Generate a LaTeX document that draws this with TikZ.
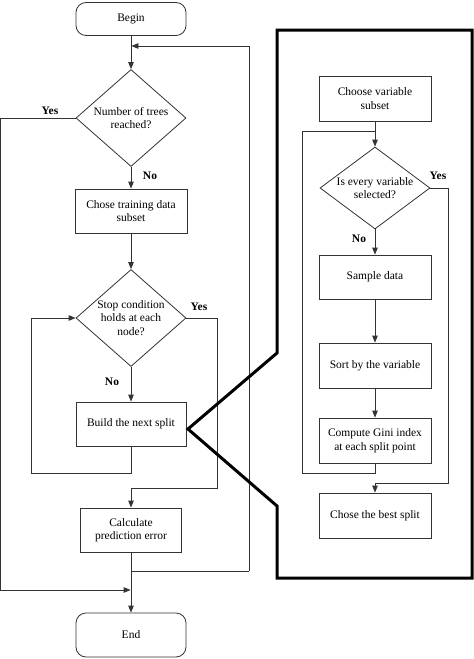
\documentclass[tikz,border=0pt]{standalone}
\usepackage{fontspec}
\setmainfont{Liberation Serif}
\usetikzlibrary{shapes.geometric,arrows.meta}
\begin{document}
\begin{tikzpicture}[x=1pt,y=-1pt,
  every node/.style={font=\fontsize{11.5}{13.5}\selectfont},
  ln/.style={line width=0.8pt,draw=black!80},
  arr/.style={ln,-{Triangle[length=7pt,width=5.5pt]}},
  box/.style={draw=black!80,line width=0.8pt,rectangle,minimum width=112pt,minimum height=44pt,align=center,inner sep=0pt},
  rbox/.style={box,rounded corners=10pt},
  dia/.style={draw=black!80,line width=0.8pt,diamond,inner sep=0pt,minimum width=110pt},
  txt/.style={align=center,inner sep=0pt},
  lab/.style={font=\fontsize{11.5}{13.5}\selectfont\bfseries,inner sep=0pt},
  big/.style={line width=3pt,draw=black,line join=miter}]
\useasboundingbox (0,0) rectangle (474,659);
% left flow
\node[rbox,minimum width=110pt,minimum height=33pt] (begin) at (131,19) {Begin};
\node[dia,minimum height=97pt] (d1) at (131,118) {};
\node[txt] (d1t) at (131,118) {Number of trees\\reached?};
\node[box] (chose) at (131,211) {Chose training data\\subset};
\node[dia,minimum height=97pt] (d2) at (131,318) {};
\node[txt] (d2t) at (131,318) {Stop condition\\holds at each\\node?};
\node[box,minimum width=110pt] (build) at (131,424) {Build the next split};
\node[box,minimum width=101pt] (calc) at (131,530) {Calculate\\prediction error};
\node[rbox,minimum width=110pt] (end) at (131,635) {End};
% labels
\node[lab] (y1) at (50,111) {Yes};
\node[lab] (n1) at (150,176) {No};
\node[lab] (y2) at (199,307) {Yes};
\node[lab] (n2) at (112,382) {No};
% coordinates
\coordinate (j1) at (131,46);
\coordinate (r1) at (249,46);
\coordinate (r2) at (249,571);
\coordinate (j3) at (131,571);
\coordinate (l1) at (0,118);
\coordinate (l2) at (0,590);
\coordinate (j4) at (131,590);
\coordinate (s1) at (217,318);
\coordinate (s2) at (217,488);
\coordinate (s3) at (131,488);
\coordinate (b1) at (131,473);
\coordinate (b2) at (31,473);
\coordinate (b3) at (31,318);
% connectors left
\draw[arr] (begin.south) -- (d1.north);
\draw[arr] (r2) -- (j3) (r2) -- (r1) -- ([xshift=0.4pt]j1);
\draw[arr] (d1.south) -- (chose.north);
\draw[arr] (chose.south) -- (d2.north);
\draw[arr] (d2.south) -- (build.north);
\draw[arr] (build.south) -- (b1) -- (b2) -- (b3) -- (d2.west);
\draw[arr] (d2.east) -- (s1) -- (s2) -- (s3) -- (calc.north);
\draw[arr] (calc.south) -- (end.north);
\draw[arr] (d1.west) -- (l1) -- (l2) -- ([xshift=-0.4pt]j4);
% right frame
\coordinate (f1) at (277,30);
\coordinate (f2) at (472,30);
\coordinate (f3) at (472,578);
\coordinate (f4) at (277,578);
\coordinate (f5) at (277,506);
\coordinate (tip) at (188,429);
\coordinate (f6) at (277,353);
\draw[big] (f1) -- (f2) -- (f3) -- (f4) -- (f5) -- (tip) -- (f6) -- cycle;
% right flow
\node[box,minimum height=45pt] (cv) at (375,98.5) {Choose variable\\subset};
\node[dia,minimum height=82pt] (d3) at (375,188) {};
\node[txt] (d3t) at (375,188) {Is every variable\\selected?};
\node[box] (sample) at (375,277) {Sample data};
\node[box,minimum height=45pt] (sort) at (375,365.5) {Sort by the variable};
\node[box,minimum height=45pt] (gini) at (375,440.5) {Compute Gini index\\at each split point};
\node[box,minimum height=45pt] (best) at (375,515.5) {Chose the best split};
\node[lab] (y3) at (438,176) {Yes};
\node[lab] (n3) at (359,239) {No};
\coordinate (g1) at (375,473);
\coordinate (g2) at (302,473);
\coordinate (g3) at (302,131);
\coordinate (g4) at (375,131);
\coordinate (e1) at (448,188);
\coordinate (e2) at (448,483);
\coordinate (e3) at (375,483);
\draw[arr] (cv.south) -- (d3.north);
\draw[ln] (gini.south) -- (g1) -- (g2) -- (g3) -- (g4);
\draw[arr] (d3.south) -- (sample.north);
\draw[arr] (sample.south) -- (sort.north);
\draw[arr] (sort.south) -- (gini.north);
\draw[arr] (d3.east) -- (e1) -- (e2) -- (e3) -- (best.north);
\end{tikzpicture}
\end{document}
